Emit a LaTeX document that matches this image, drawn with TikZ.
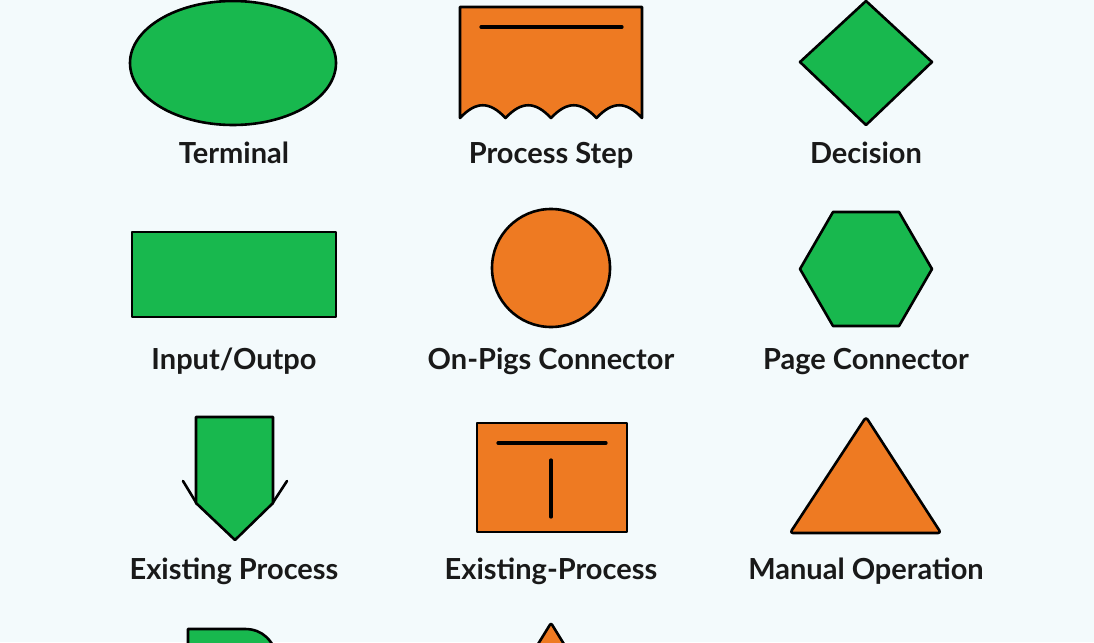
\documentclass[tikz,border=0pt]{standalone}
\usepackage{fontspec}
\setmainfont{Lato}
\definecolor{bggray}{HTML}{F3FAFC}
\definecolor{symgreen}{HTML}{18B84E}
\definecolor{symorange}{HTML}{EE7A22}
\usetikzlibrary{calc}

\begin{document}
\begin{tikzpicture}[x=1pt,y=-1pt,
    green sym/.style={draw=black,fill=symgreen,line width=2.6pt,line join=round},
    orange sym/.style={draw=black,fill=symorange,line width=2.6pt,line join=round},
    inner line/.style={draw=black,line width=3.2pt,line cap=round},
    lbl/.style={font=\fontsize{29}{34}\selectfont\bfseries,text=black!90,inner sep=0pt,anchor=base}]
            \fill[bggray] (0,0) rectangle (1094,642);
            \useasboundingbox (0,0) rectangle (1094,642);
            \clip (0,0) rectangle (1094,642);
            % row 1
            \draw[green sym] (233,63) ellipse[x radius=103,y radius=62];
            \draw[orange sym] (460,7) -- (642,7) -- (642,118)
                \foreach \k in {0,...,3}{ .. controls ({626-45.5*\k},101) and ({612.5-45.5*\k},101) .. ({596.5-45.5*\k},118)} -- cycle;
            \draw[inner line] (481,27) -- (622,27);
            \draw[green sym] (866,1) -- (932,62) -- (866,125) -- (800,62) -- cycle;
            \node[lbl] (terminal) at (234,163) {Terminal};
            \node[lbl] (process step) at (551,163) {Process Step};
            \node[lbl] (decision) at (866,163) {Decision};
            % row 2
            \draw[green sym] (132,232) rectangle (336,317);
            \draw[orange sym] (551,268) circle[radius=59];
            \draw[green sym] (800,269) -- (833,212) -- (899,212) -- (932,269) -- (899,326) -- (833,326) -- cycle;
            \node[lbl] (input output) at (234,369) {Input/Outpo};
            \node[lbl] (on page) at (551,369) {On-Pigs Connector};
            \node[lbl] (page conn) at (866,369) {Page Connector};
            % row 3
            \draw[line width=2.6pt,line cap=round] (183,481) -- (197,504);
            \draw[line width=2.6pt,line cap=round] (287,481) -- (272,504);
            \draw[green sym] (196,417) -- (273,417) -- (273,503) -- (235,540) -- (196,503) -- cycle;
            \draw[orange sym] (477,423) rectangle (627,532);
            \draw[inner line] (498,443) -- (606,443);
            \draw[inner line] (551,460) -- (551,517);
            \draw[orange sym,rounded corners=3pt] (866,417) -- (941,533) -- (790,533) -- cycle;
            \node[lbl] (existing) at (234,579) {Existing Process};
            \node[lbl] (existing2) at (551,579) {Existing-Process};
            \node[lbl] (manual) at (866,579) {Manual Operation};
            % row 4
            \draw[green sym] (188,660) -- (188,629) -- (245,629) .. controls (262,629) and (274,640) .. (278,660) -- cycle;
            \draw[orange sym,rounded corners=2pt] (551,623) -- (575,662) -- (527,662) -- cycle;
        \end{tikzpicture}
\end{document}
